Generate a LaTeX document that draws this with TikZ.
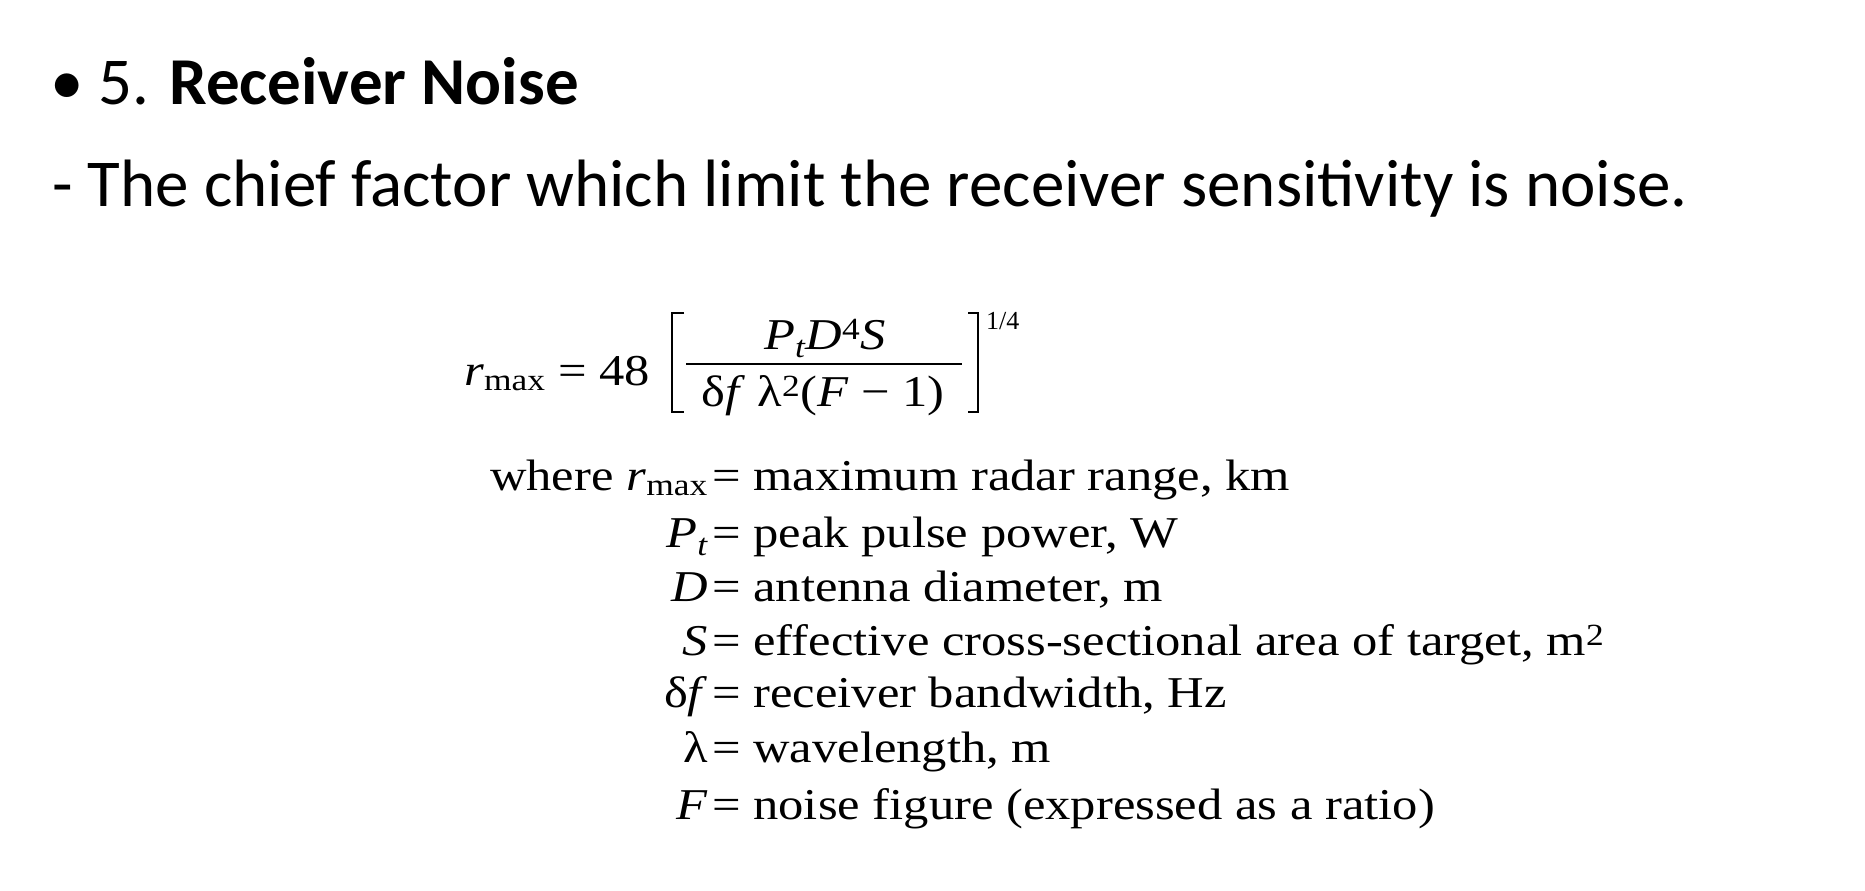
\documentclass[tikz,border=0pt]{standalone}
\usepackage{fontspec}
\setmainfont{Liberation Serif}
\newfontfamily\calfont{Carlito}
\newcommand{\vi}[1]{\textit{#1}}
\newcommand{\mycomma}{,}
\newcommand{\hs}[1]{\scalebox{1.15}[1]{#1}}
\begin{document}
\begin{tikzpicture}[x=1pt,y=-1pt,
  hd/.style={anchor=base west,inner sep=0pt,font=\calfont\fontsize{67}{70}\selectfont},
  eq/.style={anchor=base west,inner sep=0pt,font=\fontsize{44}{48}\selectfont},
  lhs/.style={anchor=base east,inner sep=0pt,font=\fontsize{44}{48}\selectfont},
  brk/.style={line width=1.3pt}]
\useasboundingbox (0,0) rectangle (1865,891);
\node[hd] (b) at (50,104) {•};
\node[hd] (t1) at (98,104) {5. \textbf{Receiver Noise}};
\node[hd] (t2) at (52,206) {- The chief factor which limit the receiver sensitivity is noise.};
% equation
\node[eq] (rm) at (464,385) {\hs{\vi{r}\textsubscript{max} = 48}};
\node[eq,anchor=base] (num) at (825,349) {\hs{\vi{P\textsubscript{t}D}\textsuperscript{4}\vi{S}}};
\node[eq,anchor=base] (den) at (823,406) {\hs{δ\vi{f} λ\textsuperscript{2}(\vi{F} − 1)}};
\coordinate (fl) at (686,364);
\coordinate (fr) at (962,364);
\draw[line width=1.5pt] (fl) -- (fr);
\draw[brk] (684,313) -- (672,313) -- (672,412) -- (684,412);
\draw[brk] (968,313) -- (978,313) -- (978,412) -- (968,412);
\node[anchor=base west,inner sep=0pt,font=\fontsize{26}{28}\selectfont] (ex) at (986,329) {1/4};
% legend
\node[lhs] (w) at (708,490) {\hs{where \vi{r}\textsubscript{max}}};
\node[eq] (w2) at (712,490) {\hs{= maximum radar range, km}};
\foreach \y/\l/\r [count=\i] in {547/\vi{P\textsubscript{t}}/peak pulse power\mycomma{} W,
  601/\vi{D}/antenna diameter\mycomma{} m,
  655/\vi{S}/effective cross-sectional area of target\mycomma{} m\textsuperscript{2},
  707/δ\vi{f}/receiver bandwidth\mycomma{} Hz,
  762/λ/wavelength\mycomma{} m,
  819/\vi{F}/noise figure (expressed as a ratio)}{
  \node[lhs] (l\i) at (708,\y) {\hs{\l}};
  \node[eq] (r\i) at (712,\y) {\hs{= \r}};
}
\end{tikzpicture}
\end{document}
